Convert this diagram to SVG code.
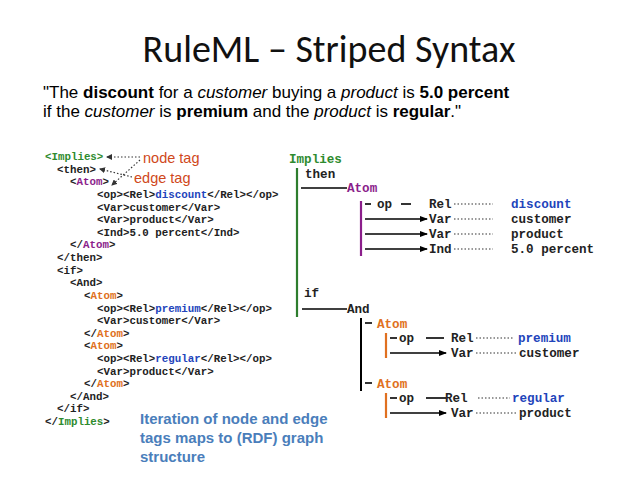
<svg xmlns="http://www.w3.org/2000/svg" width="638" height="478" viewBox="0 0 638 478">
<defs>
<marker id="ar" markerWidth="8" markerHeight="6" refX="7" refY="3" orient="auto" markerUnits="userSpaceOnUse"><path d="M0,0 L8,3 L0,6 Z" fill="#000"/></marker>
<marker id="ad" markerWidth="6" markerHeight="6" refX="5" refY="3" orient="auto" markerUnits="userSpaceOnUse"><path d="M0,0 L6,3 L0,6 Z" fill="#333"/></marker>
<style>
.c{font-family:"Liberation Mono",monospace;font-weight:bold;font-size:10.8px;fill:#222}
.t{font-family:"Liberation Mono",monospace;font-weight:bold;font-size:12.6px;fill:#222}
.g{fill:#2e8b2e}.p{fill:#8b1e8b}.o{fill:#e07020}.b{fill:#2244bb}
.l{stroke:#000;stroke-width:1.6;fill:none}
.d{stroke:#333;stroke-width:1.2;stroke-dasharray:1.5,2;fill:none}
.tg{font-family:"Liberation Sans",sans-serif;font-size:14.5px;fill:#d0481a}
</style>
</defs>
<rect width="638" height="478" fill="#fff"/>
<text x="329" y="62" text-anchor="middle" font-family="Carlito,'Liberation Sans',sans-serif" font-size="38" fill="#111">RuleML – Striped Syntax</text>
<g font-family="'Liberation Sans',sans-serif" font-size="17" fill="#000">
<text x="43" y="98">"The <tspan font-weight="bold">discount</tspan> for a <tspan font-style="italic">customer</tspan> buying a <tspan font-style="italic">product</tspan> is <tspan font-weight="bold">5.0 percent</tspan></text>
<text x="43" y="117">if the <tspan font-style="italic">customer</tspan> is <tspan font-weight="bold">premium</tspan> and the <tspan font-style="italic">product</tspan> is <tspan font-weight="bold">regular</tspan>."</text>
</g>
<g id="code" class="c">
<text x="45" y="160"><tspan class="g">&lt;Implies&gt;</tspan></text>
<text x="57" y="173">&lt;then&gt;</text>
<text x="70" y="185">&lt;<tspan class="p">Atom</tspan>&gt;</text>
<text x="97" y="198">&lt;op&gt;&lt;Rel&gt;<tspan class="b">discount</tspan>&lt;/Rel&gt;&lt;/op&gt;</text>
<text x="97" y="211">&lt;Var&gt;customer&lt;/Var&gt;</text>
<text x="97" y="223">&lt;Var&gt;product&lt;/Var&gt;</text>
<text x="97" y="236">&lt;Ind&gt;5.0 percent&lt;/Ind&gt;</text>
<text x="70" y="248">&lt;/<tspan class="p">Atom</tspan>&gt;</text>
<text x="57" y="261">&lt;/then&gt;</text>
<text x="57" y="274">&lt;if&gt;</text>
<text x="70" y="286">&lt;And&gt;</text>
<text x="84" y="299">&lt;<tspan class="o">Atom</tspan>&gt;</text>
<text x="97" y="312">&lt;op&gt;&lt;Rel&gt;<tspan class="b">premium</tspan>&lt;/Rel&gt;&lt;/op&gt;</text>
<text x="97" y="324">&lt;Var&gt;customer&lt;/Var&gt;</text>
<text x="84" y="337">&lt;/<tspan class="o">Atom</tspan>&gt;</text>
<text x="84" y="349">&lt;<tspan class="o">Atom</tspan>&gt;</text>
<text x="97" y="362">&lt;op&gt;&lt;Rel&gt;<tspan class="b">regular</tspan>&lt;/Rel&gt;&lt;/op&gt;</text>
<text x="97" y="375">&lt;Var&gt;product&lt;/Var&gt;</text>
<text x="84" y="387">&lt;/<tspan class="o">Atom</tspan>&gt;</text>
<text x="70" y="400">&lt;/And&gt;</text>
<text x="57" y="412">&lt;/if&gt;</text>
<text x="45" y="425">&lt;/<tspan class="g">Implies</tspan>&gt;</text>
</g>
<g id="tags">
<text class="tg" x="143" y="163">node tag</text>
<text class="tg" x="134" y="183">edge tag</text>
<path class="d" d="M140,157 L107,157" marker-end="url(#ad)" stroke-dasharray="3,2"/>
<path class="d" d="M140,160 L112,185" marker-end="url(#ad)" stroke-dasharray="3,2"/>
<path class="d" d="M132,177 L100,169" marker-end="url(#ad)" stroke-dasharray="3,2"/>
</g>
<g id="tree-lines">
<line x1="297" y1="168" x2="297" y2="317" stroke="#2e7d2e" stroke-width="2.2"/>
<line class="l" x1="301" y1="188" x2="347" y2="188"/>
<line x1="361" y1="201" x2="361" y2="256" stroke="#8b1e8b" stroke-width="2.2"/>
<line class="l" x1="365" y1="204" x2="371" y2="204"/>
<line class="l" x1="401" y1="204" x2="411" y2="204"/>
<line class="l" x1="365" y1="219" x2="427" y2="219" marker-end="url(#ar)"/>
<line class="l" x1="365" y1="234" x2="427" y2="234" marker-end="url(#ar)"/>
<line class="l" x1="365" y1="249" x2="427" y2="249" marker-end="url(#ar)"/>
<line class="l" x1="302" y1="309" x2="347" y2="309"/>
<line x1="361" y1="318" x2="361" y2="391" stroke="#000" stroke-width="2"/>
<line class="l" x1="365" y1="323" x2="372" y2="323"/>
<line class="l" x1="365" y1="383" x2="372" y2="383"/>
<line x1="386" y1="333" x2="386" y2="358" stroke="#e07020" stroke-width="2.2"/>
<line x1="386" y1="393" x2="386" y2="418" stroke="#e07020" stroke-width="2.2"/>
<line class="l" x1="390" y1="338" x2="397" y2="338"/>
<line class="l" x1="426" y1="338" x2="444" y2="338"/>
<line class="l" x1="390" y1="353" x2="446" y2="353" marker-end="url(#ar)"/>
<line class="l" x1="390" y1="398" x2="397" y2="398"/>
<line class="l" x1="426" y1="398" x2="446" y2="398"/>
<line class="l" x1="390" y1="413" x2="446" y2="413" marker-end="url(#ar)"/>
<g class="d">
<line x1="454" y1="204" x2="493" y2="204"/><line x1="454" y1="219" x2="493" y2="219"/><line x1="454" y1="234" x2="493" y2="234"/><line x1="454" y1="249" x2="493" y2="249"/>
<line x1="476" y1="338" x2="514" y2="338"/><line x1="476" y1="353" x2="516" y2="353"/><line x1="478" y1="398" x2="510" y2="398"/><line x1="476" y1="413" x2="516" y2="413"/>
</g>
</g>
<g id="tree" class="t">
<text x="289" y="163" class="g">Implies</text>
<text x="305" y="178">then</text>
<text x="347" y="192" class="p">Atom</text>
<text x="377" y="208">op</text>
<text x="429" y="208">Rel</text><text x="511" y="208" class="b">discount</text>
<text x="429" y="223">Var</text><text x="511" y="223">customer</text>
<text x="429" y="238">Var</text><text x="511" y="238">product</text>
<text x="429" y="253">Ind</text><text x="511" y="253">5.0 percent</text>
<text x="304" y="297">if</text>
<text x="347" y="313">And</text>
<text x="377" y="328" class="o">Atom</text>
<text x="399" y="342">op</text>
<text x="451" y="342">Rel</text><text x="518" y="342" class="b">premium</text>
<text x="451" y="357">Var</text><text x="519" y="357">customer</text>
<text x="377" y="388" class="o">Atom</text>
<text x="399" y="402">op</text>
<text x="445" y="402">Rel</text><text x="512" y="402" class="b">regular</text>
<text x="451" y="417">Var</text><text x="519" y="417">product</text>
</g>
<g font-family="'Liberation Sans',sans-serif" font-size="15" font-weight="bold" fill="#4a7ebb">
<text x="140" y="424">Iteration of node and edge</text>
<text x="140" y="443">tags maps to (RDF) graph</text>
<text x="140" y="462">structure</text>
</g>
</svg>
